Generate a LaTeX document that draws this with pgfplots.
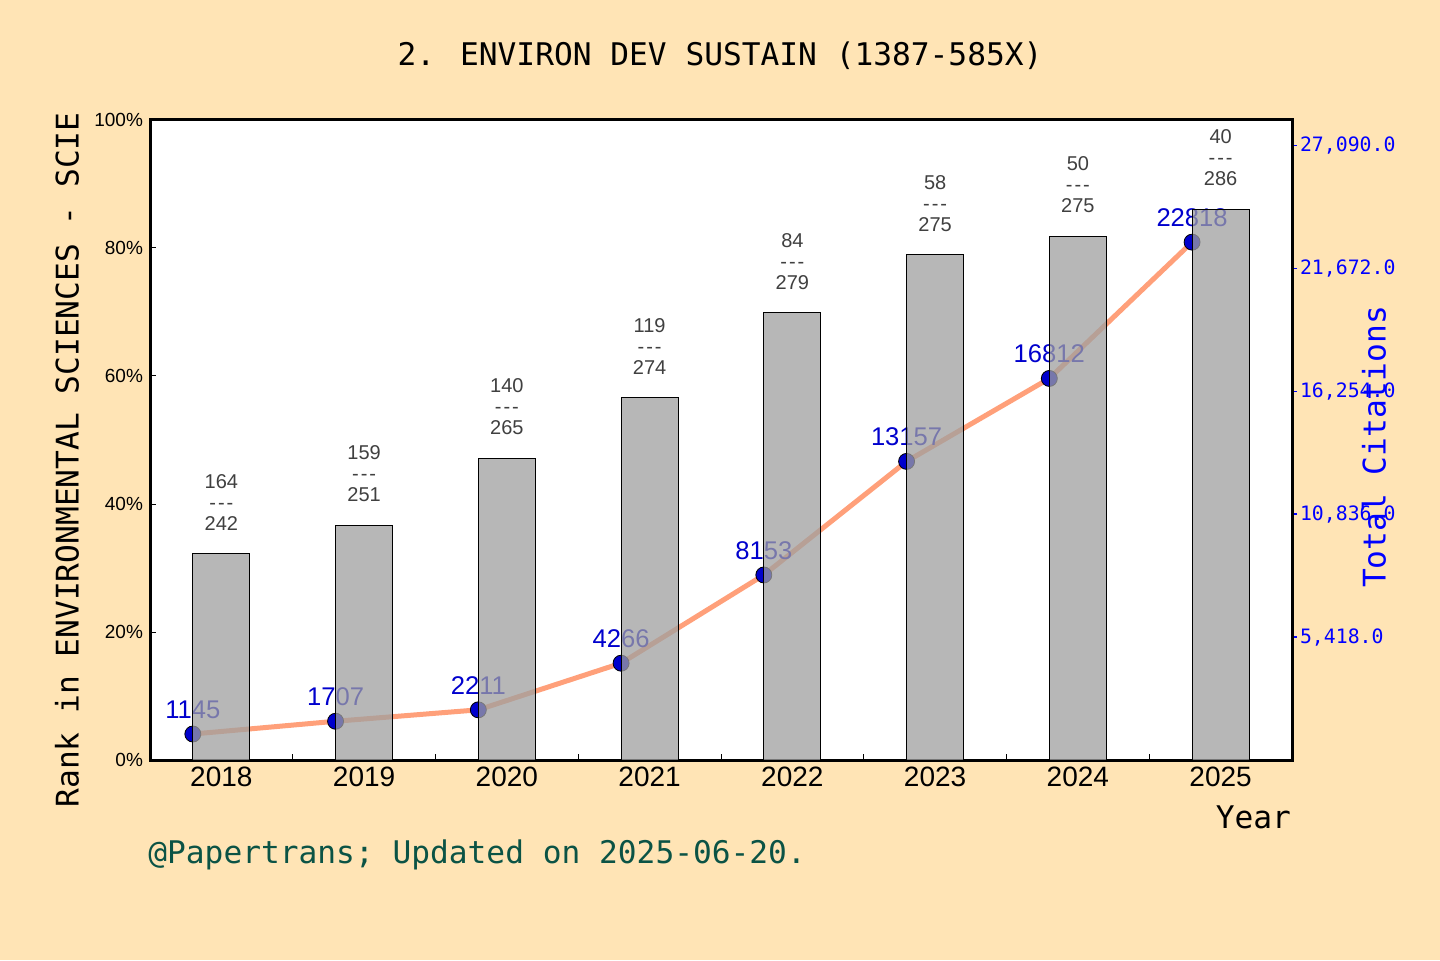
\documentclass[border=0pt]{standalone}
\usepackage{pgfplots}
\pgfplotsset{compat=1.18}
\usepackage{pgfplotstable}
\usepackage{fontspec}
\setmainfont{Liberation Sans}
\newfontfamily\monofont{DejaVu Sans Mono}

\definecolor{bgc}{HTML}{FFE4B5}
\definecolor{barc}{RGB}{160,160,160}
\definecolor{linec}{HTML}{FFA07A}
\definecolor{ptc}{RGB}{0,0,205}
\definecolor{footc}{HTML}{0B5345}
\definecolor{lblc}{RGB}{64,64,64}

\pgfplotstableread{
year pct cites rank total
2018 32.23 1145 164 242
2019 36.65 1707 159 251
2020 47.17 2211 140 265
2021 56.57 4266 119 274
2022 69.89 8153 84 279
2023 78.91 13157 58 275
2024 81.82 16812 50 275
2025 86.01 22818 40 286
}\data

\begin{document}
\begin{tikzpicture}
\useasboundingbox (0,0) rectangle (720pt,480pt);
\fill[bgc] (0,0) rectangle (720pt,480pt);

% citations (right axis), drawn first so the bars sit on top
\begin{axis}[
at={(75pt,100pt)}, anchor=south west,
scale only axis, width=571pt, height=320pt,
xmin=2017.5, xmax=2025.5,
ymin=0, ymax=28200,
axis background/.style={fill=white},
hide x axis,
axis y line*=right,
y axis line style={draw=none},
scaled y ticks=false,
ytick={5418,10836,16254,21672,27090},
yticklabels={{5,418.0},{10,836.0},{16,254.0},{21,672.0},{27,090.0}},
tick align=outside,
major tick length=2.5pt,
ytick style={blue, line width=0.6pt},
yticklabel style={font=\monofont\fontsize{9.9pt}{10pt}\selectfont, text=blue, xshift=-2pt},
clip=false,
]
\addplot[linec, line width=2.5pt, line join=round,
  mark=*, mark size=4pt, mark options={fill=ptc, draw=black, line width=0.4pt},
  nodes near coords, point meta=explicit symbolic,
  nodes near coords style={font=\fontsize{12.8pt}{12.8pt}\selectfont, text=ptc,
    anchor=south, inner sep=0pt, yshift=7.5pt}]
  table[x expr=\thisrow{year}-0.2, y=cites, meta=cites] {\data};
\end{axis}

% rank percentage (left axis)
\begin{axis}[
at={(75pt,100pt)}, anchor=south west,
scale only axis, width=571pt, height=320pt,
xmin=2017.5, xmax=2025.5,
ymin=0, ymax=100,
axis line style={line width=1.5pt},
xtick={2018,2019,2020,2021,2022,2023,2024,2025},
xticklabels={2018,2019,2020,2021,2022,2023,2024,2025},
minor xtick={2018.5,2019.5,2020.5,2021.5,2022.5,2023.5,2024.5},
major x tick style={draw=none},
ytick={0,20,40,60,80,100},
yticklabels={0\%,20\%,40\%,60\%,80\%,100\%},
xtick pos=bottom, ytick pos=left,
tick align=inside,
major tick length=3pt, minor tick length=3pt,
tick style={black, line width=0.5pt},
xticklabel style={font=\fontsize{14pt}{14pt}\selectfont},
yticklabel style={font=\fontsize{9.5pt}{10pt}\selectfont},
clip=false,
]
\addplot[ybar, bar width=0.4, fill=barc, fill opacity=0.75, draw=black, line width=0.5pt,
  visualization depends on={\thisrow{rank}\as\rk},
  visualization depends on={\thisrow{total}\as\tot},
  nodes near coords={\pgfmathprintnumber[fixed,precision=0,assume math mode=true]{\rk}\\{-}\kern1pt{-}\kern1pt{-}\\\pgfmathprintnumber[fixed,precision=0,assume math mode=true]{\tot}},
  nodes near coords style={font=\fontsize{10pt}{10.5pt}\selectfont, text=lblc,
    align=center, anchor=south, inner sep=0pt, yshift=11.5pt,
    text opacity=1, fill opacity=1}]
  table[x=year, y=pct] {\data};
\end{axis}

\node[font=\monofont\fontsize{15.6pt}{18pt}\selectfont] at (360pt,452pt) {2. ENVIRON DEV SUSTAIN (1387-585X)};
\node[font=\monofont\fontsize{15.6pt}{18pt}\selectfont, rotate=90] at (33.5pt,250pt) {Rank in ENVIRONMENTAL SCIENCES - SCIE};
\node[font=\monofont\fontsize{15.6pt}{18pt}\selectfont, rotate=90, text=blue] at (687pt,256.5pt) {Total Citations};
\node[font=\monofont\fontsize{15.6pt}{18pt}\selectfont, anchor=east] at (649pt,71.5pt) {Year};
\node[font=\monofont\fontsize{15.6pt}{18pt}\selectfont, anchor=west, text=footc, inner sep=0pt] at (74pt,52.5pt) {@Papertrans; Updated on 2025-06-20.};
\end{tikzpicture}
\end{document}
